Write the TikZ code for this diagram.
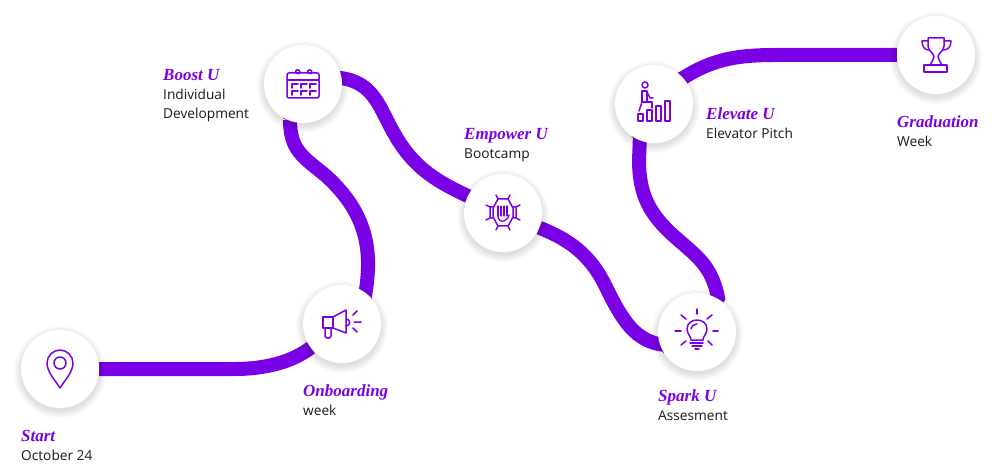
\documentclass[tikz,border=0pt]{standalone}
\usepackage{fontspec}
\setmainfont{Open Sans}
\newfontfamily\headfont{Liberation Serif}
\definecolor{brandviolet}{HTML}{7A00E6}
\pgfdeclarelayer{routelayer}
\pgfdeclarelayer{halolayer}
\pgfsetlayers{routelayer,halolayer,main}
\tikzset{
  stop/.style={circle,fill=white,minimum size=78pt,inner sep=0pt},
  route/.style={draw=brandviolet,line width=14pt},
  icon/.style={draw=brandviolet,line width=1.5pt,line join=round,line cap=round},
  caption/.style={anchor=north west,inner sep=0pt,align=left,font=\fontsize{13.7}{19}\selectfont,text=black!90},
}
\newcommand{\headline}[1]{{\headfont\fontsize{17}{19}\selectfont\bfseries\itshape\textcolor{brandviolet}{#1}}}
\begin{document}
\begin{tikzpicture}[x=1pt,y=-1pt]
\useasboundingbox (0,0) rectangle (996,465);

%% Stops
\node[stop] (start) at (60,369) {};
\node[stop] (onboarding) at (342,324) {};
\node[stop] (boost) at (303,84) {};
\node[stop] (empower) at (503,213) {};
\node[stop] (spark) at (697,332) {};
\node[stop] (elevate) at (654,104) {};
\node[stop] (graduation) at (936,55) {};

% soft shadow under the stops
\begin{pgfonlayer}{halolayer}
\foreach \name in {start,onboarding,boost,empower,spark,elevate,graduation}
  \foreach \r in {39,40,...,46}
    \fill[black,opacity=.014] ([yshift=-3pt]\name.center) circle[radius=\r];
\end{pgfonlayer}

%% Road
\begin{pgfonlayer}{routelayer}
\draw[route] (start) -- (235,369) .. controls (265,369) and (292,362) .. (onboarding);
\draw[route] (onboarding) -- (365,296) .. controls (372,255) and (370,215) .. (325,175) .. controls (303,157) and (290,150) .. (290,120) -- (boost);
\draw[route] (boost) -- (340,78) .. controls (375,82) and (380,110) .. (395,135) .. controls (415,170) and (440,183) .. (470,197) -- (empower);
\draw[route] (empower) -- (540,228) .. controls (570,240) and (590,255) .. (605,285) .. controls (622,320) and (635,342) .. (665,345) -- (spark);
\draw[route] (spark) -- (718,298) .. controls (712,265) and (695,255) .. (675,237) .. controls (650,215) and (639,195) .. (639,160) -- (640,135) -- (elevate);
\draw[route] (elevate) -- (680,80) .. controls (710,60) and (735,55) .. (775,55) -- (graduation);
\end{pgfonlayer}

%% Icons
% pin
\begin{scope}[shift={(start)}]
\draw[icon] (0,19) .. controls (-5,11) and (-13,3) .. (-13,-6) .. controls (-13,-13) and (-7,-19) .. (0,-19)
  .. controls (7,-19) and (13,-13) .. (13,-6) .. controls (13,3) and (5,11) .. (0,19);
\draw[icon] (0,-6) circle[radius=6];
\end{scope}

% megaphone
\begin{scope}[shift={(onboarding)}]
\draw[icon] (-19,-7) rectangle (-9,4);
\draw[icon] (-9,-7) -- (4,-14) -- (4,9) -- (-9,4);
\draw[icon] (4,-5) .. controls (9,-5) and (9,2) .. (4,2);
\draw[icon] (-17,4) -- (-17,12) .. controls (-17,15) and (-11,15) .. (-11,12) -- (-11,4);
\draw[icon] (11,-9) -- (15,-13) (12,-2) -- (19,-2) (11,4) -- (15,8);
\end{scope}

% calendar
\begin{scope}[shift={(boost)}]
\draw[icon,rounded corners=2pt] (-16,-11) rectangle (16,14);
\draw[icon] (-16,-4) -- (16,-4);
\draw[icon] (-7,-11) .. controls (-9,-15) and (-3,-15) .. (-3,-12) .. controls (-3,-10) and (-5,-10) .. (-6,-11);
\draw[icon] (5,-11) .. controls (3,-15) and (9,-15) .. (9,-12) .. controls (9,-10) and (7,-10) .. (6,-11);
\foreach \y in {0,7}
  \foreach \x in {-11,-2,7}
    \draw[icon,line width=1.8pt] (\x,\y+4) -- (\x,\y) -- (\x+6,\y);
\end{scope}

% hand in a circuit
\begin{scope}[shift={(empower)}]
\draw[icon] (-5,-14) -- (5,-14) -- (10,-5) -- (10,4) -- (5,13) -- (-5,13) -- (-10,4) -- (-10,-5) -- cycle;
\draw[icon] (-7,-18) -- (-5,-14) (7,-18) -- (5,-14) (-7,17) -- (-5,13) (7,17) -- (5,13);
\draw[icon] (-17,-8) -- (-13,-6) -- (-13,5) -- (-17,7) (-13,-6) -- (-10,-6) (-13,5) -- (-10,5);
\draw[icon] (17,-8) -- (13,-6) -- (13,5) -- (17,7) (13,-6) -- (10,-6) (13,5) -- (10,5);
\foreach \x in {-5,-2,1,4}
  \draw[icon,line width=1.3pt] (\x,-7) -- (\x,3);
\draw[icon,line width=1.3pt] (-5,3) .. controls (-5,7) and (-2,9) .. (1,8) .. controls (3,7) and (5,6) .. (6,2);
\end{scope}

% light bulb
\begin{scope}[shift={(spark)}]
\draw[icon] (-6,8) .. controls (-6,4) and (-10,2) .. (-10,-3) .. controls (-10,-9) and (-5,-12) .. (0,-12)
  .. controls (5,-12) and (10,-9) .. (10,-3) .. controls (10,2) and (6,4) .. (6,8) -- cycle;
\draw[icon] (-6,-3) .. controls (-6,-6) and (-3,-8) .. (0,-8);
\draw[icon] (-7,11) -- (6,11) (-5,14) -- (5,14) (-2,17) -- (2,17);
\foreach \a/\b/\c/\d in {0/-23/0/-18, -22/-1/-16/-1, 16/-1/21/-1, -16/-17/-11/-13, 15/-17/10/-13, -16/13/-11/9, 15/13/11/9}
  \draw[icon] (\a,\b) -- (\c,\d);
\end{scope}

% person on bars
\begin{scope}[shift={(elevate)}]
\draw[icon] (-16,10) rectangle (-11,17);
\draw[icon] (-7,6) rectangle (-2,17);
\draw[icon] (2,2) rectangle (7,17);
\draw[icon] (11,-3) rectangle (16,17);
\draw[icon] (-9,-19) circle[radius=3];
\draw[icon] (-12,-2) -- (-12,-13) -- (-7,-13) -- (-7,-2) -- cycle;
\draw[icon] (-12,-2) -- (-15,7);
\draw[icon] (-7,-2) -- (-2,-2) -- (-2,4);
\draw[icon] (-7,-12) -- (-4,-6) -- (-1,-6);
\end{scope}

% trophy
\begin{scope}[shift={(graduation)}]
\draw[icon] (-8,-17) -- (8,-17) -- (8,-9) .. controls (8,-4) and (2,-2) .. (2,2) .. controls (2,5) and (5,7) .. (6,10) -- (-6,10)
  .. controls (-5,7) and (-2,5) .. (-2,2) .. controls (-2,-2) and (-8,-4) .. (-8,-9) -- cycle;
\draw[icon] (-8,-14) -- (-14,-14) .. controls (-14,-8) and (-11,-5) .. (-7,-5);
\draw[icon] (8,-14) -- (15,-14) .. controls (15,-8) and (12,-5) .. (7,-5);
\draw[icon] (-12,10) rectangle (11,17);
\end{scope}

%% Labels
\node[caption] (startlabel) at (21,430) {\headline{Start}\\October 24};
\node[caption] (onboardinglabel) at (303,385) {\headline{Onboarding}\\week};
\node[caption] (boostlabel) at (163,69) {\headline{Boost U}\\Individual\\Development};
\node[caption] (empowerlabel) at (464,128) {\headline{Empower U}\\Bootcamp};
\node[caption] (sparklabel) at (658,390) {\headline{Spark U}\\Assesment};
\node[caption] (elevatelabel) at (706,108) {\headline{Elevate U}\\Elevator Pitch};
\node[caption] (graduationlabel) at (897,116) {\headline{Graduation}\\Week};

\end{tikzpicture}
\end{document}
